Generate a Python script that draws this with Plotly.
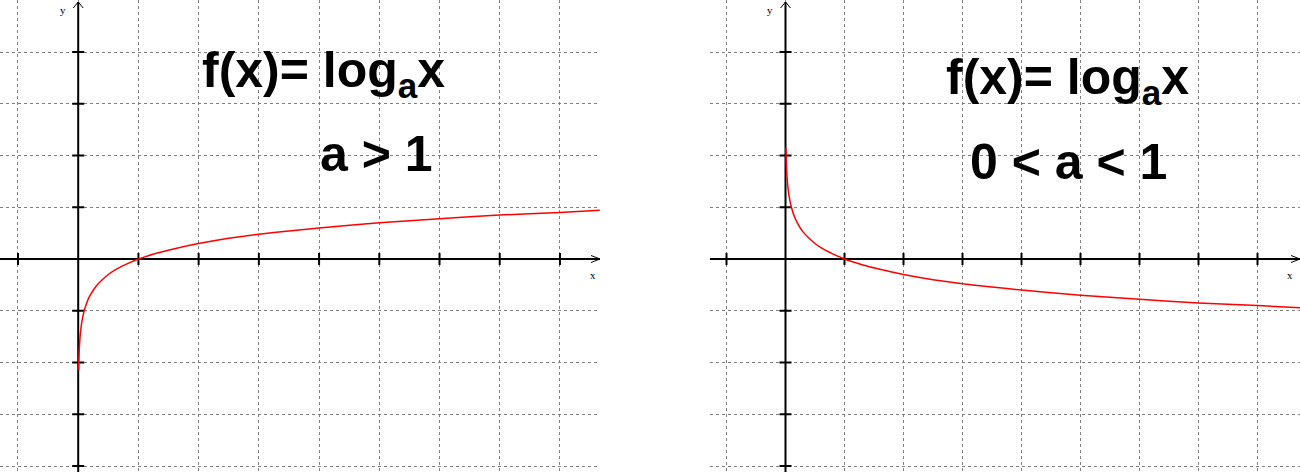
import plotly.graph_objects as go

# ---- data ----
left_x = [0.007, 0.01, 0.015, 0.02, 0.03, 0.04, 0.06, 0.08, 0.1, 0.15, 0.2, 0.3, 0.4, 0.5,
          0.6, 0.8, 1.0, 1.3, 1.6, 2.0, 2.5, 3.0, 3.5, 4.0, 5.0, 6.0, 7.0, 8.0, 8.66]
left_y = [-2.15, -2.0, -1.82, -1.70, -1.52, -1.40, -1.22, -1.10, -1.0, -0.82, -0.70, -0.52,
          -0.40, -0.30, -0.22, -0.10, 0.0, 0.11, 0.20, 0.30, 0.40, 0.48, 0.54, 0.60, 0.70,
          0.78, 0.85, 0.90, 0.94]
right_x = [0.007, 0.01, 0.015, 0.02, 0.03, 0.04, 0.06, 0.08, 0.1, 0.15, 0.2, 0.3, 0.4, 0.5,
           0.6, 0.8, 1.0, 1.3, 1.6, 2.0, 2.5, 3.0, 3.5, 4.0, 5.0, 6.0, 7.0, 8.0, 8.72]
right_y = [2.15, 2.0, 1.82, 1.70, 1.52, 1.40, 1.22, 1.10, 1.0, 0.82, 0.70, 0.52,
           0.40, 0.30, 0.22, 0.10, 0.0, -0.11, -0.20, -0.30, -0.40, -0.48, -0.54, -0.60,
           -0.70, -0.78, -0.85, -0.90, -0.94]
x_ticks = [-1, 1, 2, 3, 4, 5, 6, 7, 8]
y_ticks = [-4, -3, -2, -1, 1, 2, 3, 4]
grid_x = [-1, 0, 1, 2, 3, 4, 5, 6, 7, 8]
grid_y = [-4, -3, -2, -1, 0, 1, 2, 3, 4]
title_text = "<b>f(x)= log<sub>a</sub>x</b>"
left_cond = "<b>a > 1</b>"
right_cond = "<b>0 < a < 1</b>"

# ---- geometry (pixels) ----
W, H = 1300, 472
PY = 51.75          # px per y unit
Y0PX = 259.0        # pixel row of y = 0
y_rng = [-(H - Y0PX) / PY, Y0PX / PY]

L_PX0, L_PX1, L_PPU, L_ORG = 0, 600, 60.22, 78.2
R_PX0, R_PX1, R_PPU, R_ORG = 710, 1300, 59.0, 785.5
xl_rng = [(L_PX0 - L_ORG) / L_PPU, (L_PX1 - L_ORG) / L_PPU]
xr_rng = [(R_PX0 - R_ORG) / R_PPU, (R_PX1 - R_ORG) / R_PPU]

fig = go.Figure()

def add_panel(xa, ya, xs, ys, xr, ppu):
    tip_y = (Y0PX - 2) / PY
    fig.add_trace(go.Scatter(x=[xr[0], xr[1]], y=[0, 0], mode="lines",
                             line=dict(color="black", width=2), xaxis=xa, yaxis=ya,
                             hoverinfo="skip"))
    fig.add_trace(go.Scatter(x=[0, 0], y=[y_rng[0], tip_y], mode="lines",
                             line=dict(color="black", width=2), xaxis=xa, yaxis=ya,
                             hoverinfo="skip"))
    adx, ady = 9 / ppu, 3.5 / PY
    fig.add_trace(go.Scatter(x=[xr[1] - adx, xr[1], xr[1] - adx], y=[ady, 0, -ady],
                             mode="lines", line=dict(color="black", width=1),
                             xaxis=xa, yaxis=ya, hoverinfo="skip"))
    bdx, bdy = 5 / ppu, 6 / PY
    fig.add_trace(go.Scatter(x=[-bdx, 0, bdx], y=[tip_y - bdy, tip_y, tip_y - bdy],
                             mode="lines", line=dict(color="black", width=1),
                             xaxis=xa, yaxis=ya, hoverinfo="skip"))
    fig.add_trace(go.Scatter(x=x_ticks, y=[0] * len(x_ticks), mode="markers",
                             marker=dict(symbol="line-ns", size=8.6, color="black",
                                         line=dict(color="black", width=2)),
                             xaxis=xa, yaxis=ya, hoverinfo="skip"))
    fig.add_trace(go.Scatter(x=[0] * len(y_ticks), y=y_ticks, mode="markers",
                             marker=dict(symbol="line-ew", size=8.6, color="black",
                                         line=dict(color="black", width=2)),
                             xaxis=xa, yaxis=ya, hoverinfo="skip"))
    fig.add_trace(go.Scatter(x=xs, y=ys, mode="lines",
                             line=dict(color="#ff0000", width=1.5, shape="spline",
                                       smoothing=0.5),
                             xaxis=xa, yaxis=ya))

add_panel("x", "y", left_x, left_y, xl_rng, L_PPU)
add_panel("x2", "y2", right_x, right_y, xr_rng, R_PPU)

grid_style = dict(showgrid=True, gridcolor="#808080", gridwidth=1, griddash="dot",
                  zeroline=False, showline=False, showticklabels=False, ticks="",
                  fixedrange=True)

fig.update_layout(
    width=W, height=H, margin=dict(l=0, r=0, t=0, b=0),
    paper_bgcolor="white", plot_bgcolor="white", showlegend=False,
    xaxis=dict(domain=[L_PX0 / W, L_PX1 / W], range=xl_rng, tickvals=grid_x, **grid_style),
    yaxis=dict(domain=[0, 1], range=y_rng, tickvals=grid_y, anchor="x", **grid_style),
    xaxis2=dict(domain=[R_PX0 / W, R_PX1 / W], range=xr_rng, tickvals=grid_x,
                anchor="y2", **grid_style),
    yaxis2=dict(domain=[0, 1], range=y_rng, tickvals=grid_y, anchor="x2", **grid_style),
)

big = dict(family="Liberation Sans, Arial, sans-serif", size=50, color="black")
small = dict(family="Liberation Serif, serif", size=11, color="black")

def px2x(px, org, ppu):
    return (px - org) / ppu

def py2y(py):
    return (Y0PX - py) / PY

annos = [
    dict(text=title_text, x=px2x(323, L_ORG, L_PPU), y=py2y(73), xref="x", yref="y", font=big),
    dict(text=left_cond, x=px2x(376, L_ORG, L_PPU), y=py2y(154), xref="x", yref="y", font=big),
    dict(text=title_text, x=px2x(1067.5, R_ORG, R_PPU), y=py2y(80), xref="x2", yref="y2", font=big),
    dict(text=right_cond, x=px2x(1068, R_ORG, R_PPU), y=py2y(162), xref="x2", yref="y2", font=big),
    dict(text="y", x=px2x(63, L_ORG, L_PPU), y=py2y(10), xref="x", yref="y", font=small),
    dict(text="x", x=px2x(593, L_ORG, L_PPU), y=py2y(275), xref="x", yref="y", font=small),
    dict(text="y", x=px2x(770.5, R_ORG, R_PPU), y=py2y(10), xref="x2", yref="y2", font=small),
    dict(text="x", x=px2x(1290, R_ORG, R_PPU), y=py2y(275), xref="x2", yref="y2", font=small),
]
for a in annos:
    a.update(showarrow=False, xanchor="center", yanchor="middle")
fig.update_layout(annotations=annos)

fig.write_html("out.html", config={"displayModeBar": False},
               post_script="document.body.style.margin='0';document.body.style.overflow='hidden';")
